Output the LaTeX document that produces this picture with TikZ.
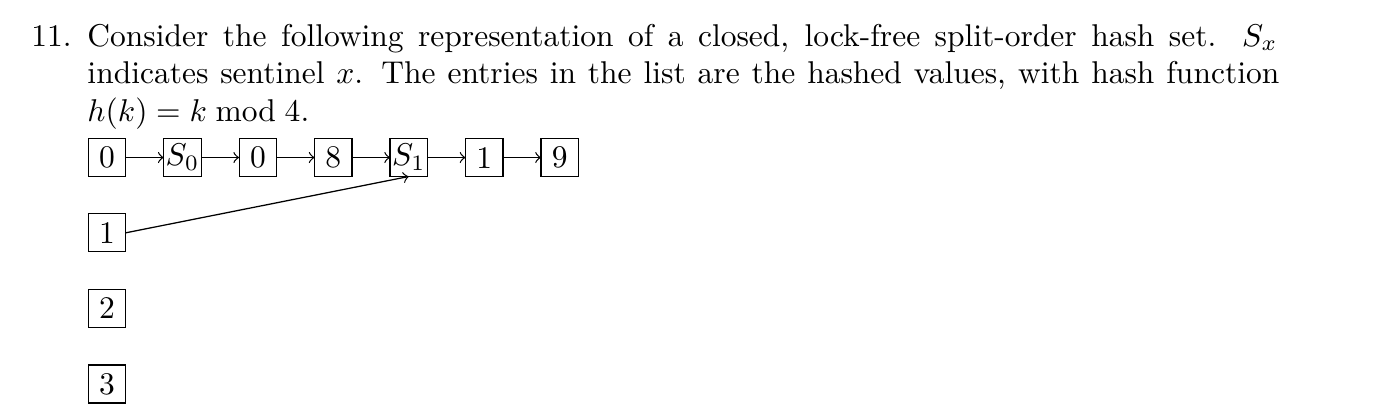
\documentclass[tikz,border=0pt]{standalone}
\begin{document}
\begin{tikzpicture}[x=0.3175pt,y=-0.3175pt,
  cell/.style={draw,minimum width=11.9pt,minimum height=12.06pt,inner sep=0pt,outer sep=0pt,line width=0.4pt},
  link/.style={->,line width=0.4pt},
  line/.style={anchor=base west,inner sep=0pt,outer sep=0pt}]
\useasboundingbox (0,0) rectangle (1400,414);
% text
\node[line] (num) at (31.5,46) {11.};
\node[line] (l1) at (87.5,46) {\hbox to 377.8pt{Consider the following representation of a closed, lock-free split-order hash set. $S_x$}};
\node[line] (l2) at (87.5,83.5) {\hbox to 378.4pt{indicates sentinel $x$. The entries in the list are the hashed values, with hash function}};
\node[line] (l3) at (87.5,121) {$h(k) = k \bmod 4$.};
% list
\foreach \i/\t in {0/0,1/$S_0$,2/0,3/8,4/$S_1$,5/1,6/9}{
  \node[cell] (r\i) at ({107+75.45*\i},157.5) {\t};
}
\foreach \i [count=\j from 1] in {0,...,5}{
  \draw[link] (r\i) -- (r\j);
}
% buckets
\node[cell] (b1) at (107,232.8) {1};
\node[cell] (b2) at (107,308.3) {2};
\node[cell] (b3) at (107,384) {3};
\draw[link] (b1.east) -- (r4.south);
\end{tikzpicture}
\end{document}
